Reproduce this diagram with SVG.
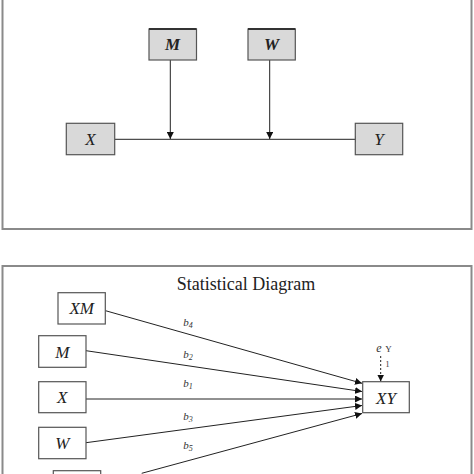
<svg xmlns="http://www.w3.org/2000/svg" width="474" height="474" viewBox="0 0 474 474">
<style>
.frame{fill:none;stroke:#8a8a8a;stroke-width:2}
.gbox{fill:#d9d9d9;stroke:#555;stroke-width:1.2}
.wbox{fill:#fff;stroke:#555;stroke-width:1.2}
.lbl{font-family:"Liberation Serif",serif;font-style:italic;fill:#222;text-anchor:middle}
.big{font-size:17px}
.coef{font-family:"Liberation Serif",serif;font-style:italic;font-size:11px;fill:#333;text-anchor:middle}
.edge{stroke:#222;stroke-width:1;fill:none}
</style>
<defs>
<marker id="ah" viewBox="0 0 10 10" refX="10" refY="5" markerWidth="7" markerHeight="7" markerUnits="userSpaceOnUse" orient="auto">
<path d="M0,0 L10,5 L0,10 z" fill="#111"/>
</marker>
</defs>
<rect width="474" height="474" fill="#fff"/>
<polyline class="frame" points="2.5,-5 2.5,229 471.5,229 471.5,-5"/>
<polyline class="frame" points="2.5,480 2.5,266 471.5,266 471.5,480"/>
<g id="connectors">
<line class="edge" x1="115" y1="139.3" x2="362" y2="139.3" marker-end="url(#ah)"/>
<line class="edge" x1="170.3" y1="60" x2="170.3" y2="139" stroke-width="1.8" marker-end="url(#ah)"/>
<line class="edge" x1="269.7" y1="60" x2="269.7" y2="139" marker-end="url(#ah)"/>
<line class="edge" x1="105.5" y1="310.7" x2="362" y2="383.3" marker-end="url(#ah)"/>
<line class="edge" x1="86" y1="350.7" x2="362" y2="391.5" marker-end="url(#ah)"/>
<line class="edge" x1="86" y1="399" x2="362" y2="399" marker-end="url(#ah)"/>
<line class="edge" x1="86" y1="442.7" x2="362" y2="405.5" marker-end="url(#ah)"/>
<line class="edge" x1="141.7" y1="473.3" x2="362" y2="413.5" marker-end="url(#ah)"/>
<line class="edge" x1="380.7" y1="356" x2="380.7" y2="381.5" stroke-dasharray="2,2" marker-end="url(#ah)"/>
</g>
<g id="coefs">
<text class="coef" x="188" y="326">b<tspan font-size="8" dy="2">4</tspan></text>
<text class="coef" x="188" y="357.5">b<tspan font-size="8" dy="2">2</tspan></text>
<text class="coef" x="188" y="386.5">b<tspan font-size="8" dy="2">1</tspan></text>
<text class="coef" x="188" y="420">b<tspan font-size="8" dy="2">3</tspan></text>
<text class="coef" x="188" y="449">b<tspan font-size="8" dy="2">5</tspan></text>
<text x="379" y="351.5" font-family="Liberation Serif,serif" font-style="italic" font-size="12" fill="#333" text-anchor="middle">e</text>
<text x="388.5" y="351.5" font-family="Liberation Serif,serif" font-size="9" fill="#333" text-anchor="middle">Y</text>
<text x="387.5" y="366.5" font-family="Liberation Serif,serif" font-size="8" fill="#333" text-anchor="middle">1</text>
</g>
<text x="246" y="289.5" font-family="Liberation Serif,serif" font-size="18" fill="#222" text-anchor="middle">Statistical Diagram</text>
<g id="top-M">
<rect class="gbox" x="149" y="29" width="47.5" height="31"/>
<line x1="149" y1="29" x2="196.5" y2="29" stroke="#333" stroke-width="2"/>
<text class="lbl big" x="172.5" y="50" font-weight="bold">M</text>
</g>
<g id="top-W">
<rect class="gbox" x="248" y="29" width="47.3" height="31"/>
<line x1="248" y1="29" x2="295.3" y2="29" stroke="#333" stroke-width="2"/>
<text class="lbl big" x="271.6" y="50" font-weight="bold">W</text>
</g>
<g id="top-X">
<rect class="gbox" x="66.3" y="123.3" width="48.4" height="31.4"/>
<text class="lbl big" x="90.5" y="145">X</text>
</g>
<g id="top-Y">
<rect class="gbox" x="355.3" y="123.3" width="47.4" height="31.4"/>
<text class="lbl big" x="379" y="145">Y</text>
</g>
<g id="XM">
<rect class="wbox" x="58" y="292.7" width="47.3" height="31.3"/>
<text class="lbl big" x="81.7" y="314">XM</text>
</g>
<g id="M">
<rect class="wbox" x="38.7" y="335.7" width="47.3" height="31.6"/>
<text class="lbl big" x="62.3" y="357.5">M</text>
</g>
<g id="X">
<rect class="wbox" x="38.7" y="381.7" width="47.3" height="31"/>
<text class="lbl big" x="62.3" y="403">X</text>
</g>
<g id="W">
<rect class="wbox" x="38.7" y="427.3" width="47.3" height="31.4"/>
<text class="lbl big" x="62.3" y="449">W</text>
</g>
<g id="bottom">
<rect class="wbox" x="53.3" y="470.7" width="47.4" height="20"/>
</g>
<g id="XY">
<rect class="wbox" x="362.7" y="381.7" width="46.6" height="31"/>
<text class="lbl big" x="386" y="403.5">XY</text>
</g>
</svg>
